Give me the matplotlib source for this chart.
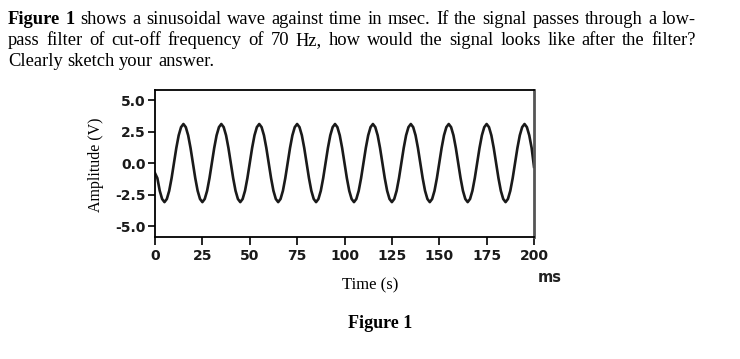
import matplotlib
matplotlib.use("Agg")
import matplotlib.pyplot as plt
import numpy as np

time_ms = np.arange(0, 200.01, 1.25)
amplitude = [
    -0.8, -1.2, -2.2, -2.85, -3.1, -2.85, -2.2, -1.2, 0.0, 1.2, 2.2, 2.85, 3.1, 2.85, 2.2, 1.2,
    0.0, -1.2, -2.2, -2.85, -3.1, -2.85, -2.2, -1.2, 0.0, 1.2, 2.2, 2.85, 3.1, 2.85, 2.2, 1.2,
    0.0, -1.2, -2.2, -2.85, -3.1, -2.85, -2.2, -1.2, 0.0, 1.2, 2.2, 2.85, 3.1, 2.85, 2.2, 1.2,
    0.0, -1.2, -2.2, -2.85, -3.1, -2.85, -2.2, -1.2, 0.0, 1.2, 2.2, 2.85, 3.1, 2.85, 2.2, 1.2,
    0.0, -1.2, -2.2, -2.85, -3.1, -2.85, -2.2, -1.2, 0.0, 1.2, 2.2, 2.85, 3.1, 2.85, 2.2, 1.2,
    0.0, -1.2, -2.2, -2.85, -3.1, -2.85, -2.2, -1.2, 0.0, 1.2, 2.2, 2.85, 3.1, 2.85, 2.2, 1.2,
    0.0, -1.2, -2.2, -2.85, -3.1, -2.85, -2.2, -1.2, 0.0, 1.2, 2.2, 2.85, 3.1, 2.85, 2.2, 1.2,
    0.0, -1.2, -2.2, -2.85, -3.1, -2.85, -2.2, -1.2, 0.0, 1.2, 2.2, 2.85, 3.1, 2.85, 2.2, 1.2,
    0.0, -1.2, -2.2, -2.85, -3.1, -2.85, -2.2, -1.2, 0.0, 1.2, 2.2, 2.85, 3.1, 2.85, 2.2, 1.2,
    0.0, -1.2, -2.2, -2.85, -3.1, -2.85, -2.2, -1.2, 0.0, 1.2, 2.2, 2.85, 3.1, 2.85, 2.2, 1.2,
    -0.3,
]
x_ticks = [0, 25, 50, 75, 100, 125, 150, 175, 200]
y_ticks = [5.0, 2.5, 0.0, -2.5, -5.0]

question_lines = [
    "Figure 1 shows a sinusoidal wave against time in msec. If the signal passes through a low-",
    "pass filter of cut-off frequency of 70 Hz, how would the signal looks like after the filter?",
    "Clearly sketch your answer.",
]

W, H = 740, 359
fig = plt.figure(figsize=(W / 100, H / 100), dpi=100)
renderer = fig.canvas.get_renderer()
serif = "Liberation Serif"
fs = 13.3

def px(x, y):
    return x / W, 1 - y / H

# justified question text, drawn word by word
def draw_line(words, baseline, x0, x1, justify, bold_first=0):
    items = []
    for i, w in enumerate(words):
        wt = "bold" if i < bold_first else "normal"
        t = fig.text(0, 1 - baseline / H, w, family=serif, fontsize=fs, weight=wt, va="baseline")
        items.append((t, t.get_window_extent(renderer).width))
    total = sum(w for _, w in items)
    if justify:
        gap = (x1 - x0 - total) / (len(items) - 1)
    else:
        gap = fs * 1.389 * 0.25
    x = x0
    for t, w in items:
        t.set_x(x / W)
        x += w + gap

baselines = [24, 45, 66]
for i, line in enumerate(question_lines):
    draw_line(line.split(" "), baselines[i], 8, 696, i < 2, bold_first=2 if i == 0 else 0)

ax = fig.add_axes([155 / W, 1 - 237 / H, (534 - 155) / W, (237 - 90) / H])
ax.plot(time_ms, amplitude, color="#1a1a1a", lw=1.9)
ax.set_xlim(0, 200)
ax.set_ylim(-5.87, 5.8)
ax.set_xticks(x_ticks)
ax.set_yticks(y_ticks)
ax.set_yticklabels([f"{v:.1f}" for v in y_ticks])
ax.tick_params(axis="x", length=6, width=1.2, pad=3, labelsize=10)
ax.tick_params(axis="y", length=5, width=1.2, pad=1.5, labelsize=10)
for lab in ax.get_xticklabels() + ax.get_yticklabels():
    lab.set_fontweight("bold")
    lab.set_color("#1a1a1a")
for s in ax.spines.values():
    s.set_linewidth(1.3)
ax.spines["right"].set_linewidth(2)
ax.spines["right"].set_color("#555555")

fig.text(*px(96, 165), "Amplitude (V)", family=serif, fontsize=11.5, rotation=90, ha="center", va="center")
fig.text(*px(370, 285), "Time (s)", family=serif, fontsize=12, ha="center", va="center")
fig.text(*px(550, 277), "ms", fontsize=10.5, weight="bold", ha="center", va="center", color="#222222")
fig.text(*px(380, 323), "Figure 1", family=serif, weight="bold", fontsize=13, ha="center", va="center")

fig.savefig("out.png", dpi=100)
